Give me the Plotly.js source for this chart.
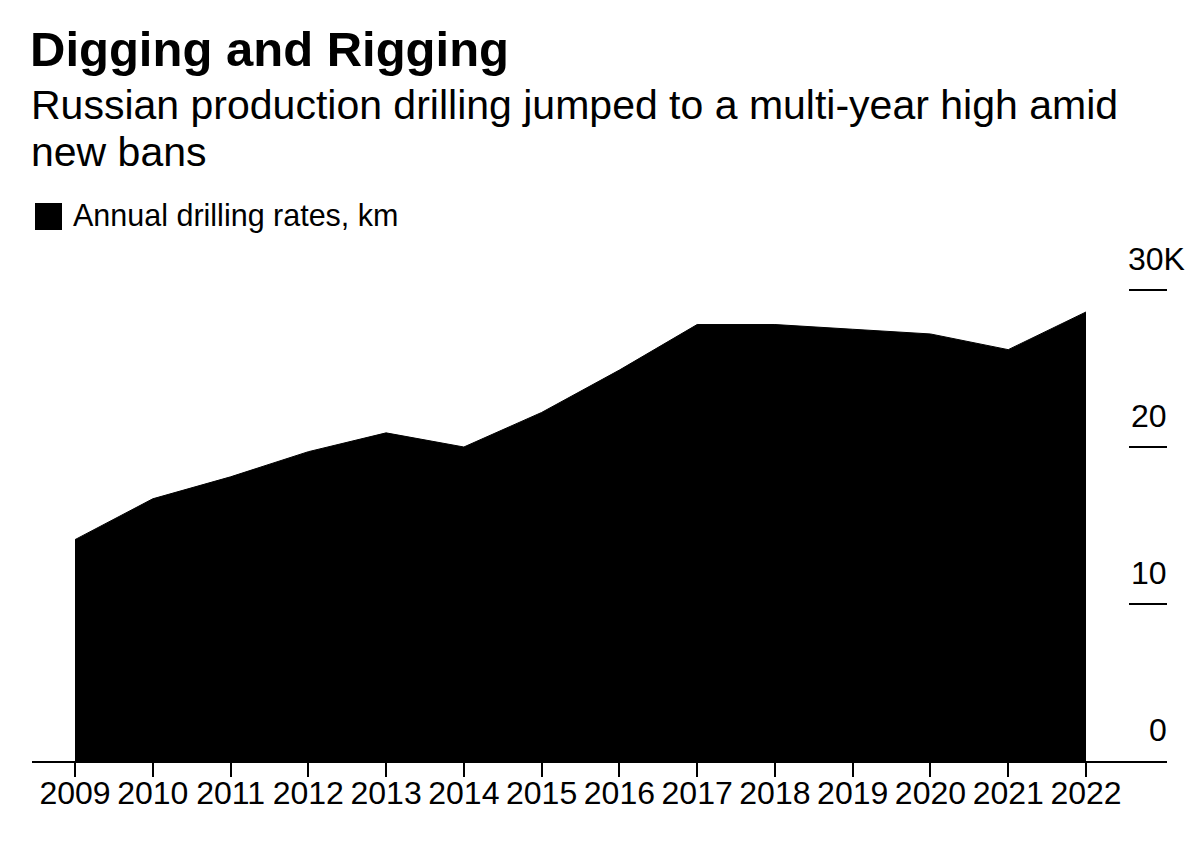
<!DOCTYPE html>
<html>
<head>
<meta charset="utf-8">
<script src="https://cdn.plot.ly/plotly-3.0.1.min.js"></script>
<style>
  html, body { margin: 0; padding: 0; background: #fff; }
  #chart { width: 1200px; height: 855px; }
</style>
</head>
<body>
<div id="chart"></div>
<script>
// ---- data ----
const years = [2009, 2010, 2011, 2012, 2013, 2014, 2015, 2016, 2017, 2018, 2019, 2020, 2021, 2022];
const drillingKm = [14.1, 16.7, 18.1, 19.7, 20.9, 20.0, 22.2, 24.9, 27.8, 27.8, 27.5, 27.2, 26.2, 28.6]; // thousands of km
const yTickVals = [0, 10, 20, 30];
const yTickText = ["0", "10", "20", "30K"];
const titleText = "Digging and Rigging";
const subtitleLines = ["Russian production drilling jumped to a multi-year high amid", "new bans"];
const seriesName = "Annual drilling rates, km";

// ---- layout helpers (pixel -> paper) ----
const W = 1200, H = 855;
const M = { l: 32, r: 33, t: 250, b: 94 };
const PW = W - M.l - M.r, PH = H - M.t - M.b;
const px = X => (X - M.l) / PW;
const py = Y => (H - M.b - Y) / PH;
const FONT = "Liberation Sans, Arial, Helvetica, sans-serif";

const trace = {
  x: years,
  y: drillingKm,
  type: "scatter",
  mode: "lines",
  fill: "tozeroy",
  fillcolor: "#000000",
  line: { color: "#000000", width: 1 },
  name: seriesName,
  showlegend: false,
  hoverinfo: "x+y"
};

const annotations = [
  { text: "<b>" + titleText + "</b>", x: px(29), y: py(49), xanchor: "left", yanchor: "middle",
    font: { family: FONT, size: 49, color: "#000" } },
  { text: subtitleLines[0], x: px(30), y: py(105), xanchor: "left", yanchor: "middle",
    font: { family: FONT, size: 41, color: "#000" } },
  { text: subtitleLines[1], x: px(30), y: py(152), xanchor: "left", yanchor: "middle",
    font: { family: FONT, size: 41, color: "#000" } },
  { text: seriesName, x: px(72), y: py(216), xanchor: "left", yanchor: "middle",
    font: { family: FONT, size: 30.5, color: "#000" } }
];
yTickVals.forEach((v, i) => {
  const t = yTickText[i];
  const hang = /K$/.test(t);
  annotations.push({
    text: t, x: hang ? px(1127) : px(1168), xref: "paper", y: v, yref: "y",
    xanchor: hang ? "left" : "right", yanchor: "bottom", yshift: 12,
    showarrow: false, font: { family: FONT, size: 32, color: "#000" }
  });
});
annotations.forEach(a => { a.showarrow = false; if (!a.xref) a.xref = "paper"; if (!a.yref) a.yref = "paper"; a.borderpad = 0; });

const layout = {
  width: W, height: H,
  margin: M,
  paper_bgcolor: "#fff", plot_bgcolor: "#fff",
  showlegend: false,
  xaxis: {
    range: [2009 - 43 / 77.77, 2022 + 81 / 77.77],
    tickvals: years,
    ticktext: years.map(String),
    ticks: "outside", ticklen: 14, tickwidth: 2, tickcolor: "#000",
    ticklabelstandoff: -11,
    showline: true, linecolor: "#000", linewidth: 2,
    showgrid: false, zeroline: false,
    tickfont: { family: FONT, size: 32, color: "#000" },
    fixedrange: true
  },
  yaxis: {
    side: "right",
    range: [0, PH / 15.7],
    tickvals: yTickVals,
    showticklabels: false,
    ticks: "inside", ticklen: 38, tickwidth: 2, tickcolor: "#000",
    showline: false, showgrid: false, zeroline: false,
    fixedrange: true
  },
  shapes: [
    { type: "rect", xref: "paper", yref: "paper", x0: px(35), x1: px(62), y0: py(230), y1: py(203),
      fillcolor: "#000", line: { width: 0 } }
  ],
  annotations: annotations
};

Plotly.newPlot("chart", [trace], layout, { displayModeBar: false, staticPlot: true });
</script>
</body>
</html>
